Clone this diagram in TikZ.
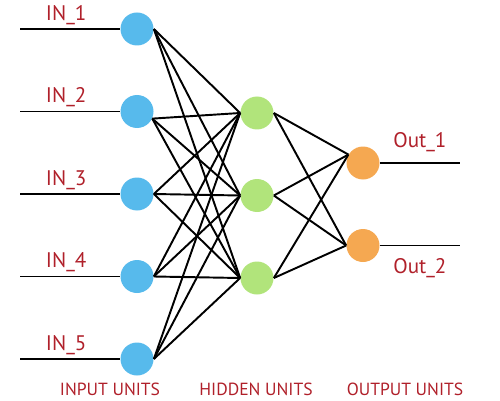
\documentclass[tikz,border=0pt]{standalone}
\usepackage{fontspec}
\setmainfont{PT Sans}
\usetikzlibrary{positioning}
\definecolor{inblue}{HTML}{57BAEC}
\definecolor{hidgreen}{HTML}{B1E47B}
\definecolor{outorange}{HTML}{F5A851}
\definecolor{txtred}{HTML}{B0202A}

\begin{document}
\begin{tikzpicture}[node distance=1.65cm,
  unit/.style={circle,minimum size=0.66cm,inner sep=0pt},
  wire/.style={line width=1.1pt},
  txt/.style={text=txtred,font=\fontsize{12}{14}\selectfont,inner sep=2pt},
  unittxt/.style={text=txtred,font=\fontsize{10}{12}\selectfont}]
  \useasboundingbox (0,0) rectangle (10,-8);
  % input layer
  \node[unit,fill=inblue]    (i_1) at (2.74,-0.58) {};
  \node[unit,fill=inblue]    (i_2) [below of=i_1]  {};
  \node[unit,fill=inblue]    (i_3) [below of=i_2]  {};
  \node[unit,fill=inblue]    (i_4) [below of=i_3]  {};
  \node[unit,fill=inblue]    (i_5) [below of=i_4]  {};
  % hidden layer
  \node[unit,fill=hidgreen]  (h_1) at (5.14,-2.26) {};
  \node[unit,fill=hidgreen]  (h_2) [below of=h_1]  {};
  \node[unit,fill=hidgreen]  (h_3) [below of=h_2]  {};
  % output layer
  \node[unit,fill=outorange] (o_1) at (7.26,-3.26) {};
  \node[unit,fill=outorange] (o_2) [below of=o_1]  {};
  % free ends
  \coordinate [left=2cm of i_1] (a_1);
  \coordinate [left=2cm of i_2] (a_2);
  \coordinate [left=2cm of i_3] (a_3);
  \coordinate [left=2cm of i_4] (a_4);
  \coordinate [left=2cm of i_5] (a_5);
  \coordinate [right=1.6cm of o_1] (b_1);
  \coordinate [right=1.6cm of o_2] (b_2);
  \path[wire]
  (a_1) edge node[txt,above,pos=0.46] {IN\_1} (i_1)
  (a_2) edge node[txt,above,pos=0.46] {IN\_2} (i_2)
  (a_3) edge node[txt,above,pos=0.46] {IN\_3} (i_3)
  (a_4) edge node[txt,above,pos=0.46] {IN\_4} (i_4)
  (a_5) edge node[txt,above,pos=0.46] {IN\_5} (i_5)
  (o_1) edge node[txt,above,yshift=4pt] {Out\_1} (b_1)
  (o_2) edge node[txt,below,yshift=-5pt] {Out\_2} (b_2);
  \path[wire]
  (i_1.east) edge (h_1.west)
  (i_1.east) edge (h_2.west)
  (i_1.east) edge (h_3.west)
  (i_2.-25) edge (h_1.west)
  (i_2.-25) edge (h_2.west)
  (i_2.-25) edge (h_3.west)
  (i_3.east) edge (h_1.west)
  (i_3.east) edge (h_2.west)
  (i_3.east) edge (h_3.west)
  (i_4.east) edge (h_1.west)
  (i_4.east) edge (h_2.west)
  (i_4.east) edge (h_3.west)
  (i_5.east) edge (h_1.west)
  (i_5.east) edge (h_2.west)
  (i_5.east) edge (h_3.west)
  (h_1.east) edge (o_1.150)
  (h_1.east) edge (o_2.west)
  (h_2.east) edge (o_1.150)
  (h_2.east) edge (o_2.west)
  (h_3.east) edge (o_1.150)
  (h_3.east) edge (o_2.west);
  % layer names
  \node[unittxt] (inputs)  at (2.2,-7.79)  {INPUT UNITS};
  \node[unittxt] (hiddens) at (5.12,-7.79) {HIDDEN UNITS};
  \node[unittxt] (outputs) at (8.1,-7.79)  {OUTPUT UNITS};
\end{tikzpicture}
\end{document}
